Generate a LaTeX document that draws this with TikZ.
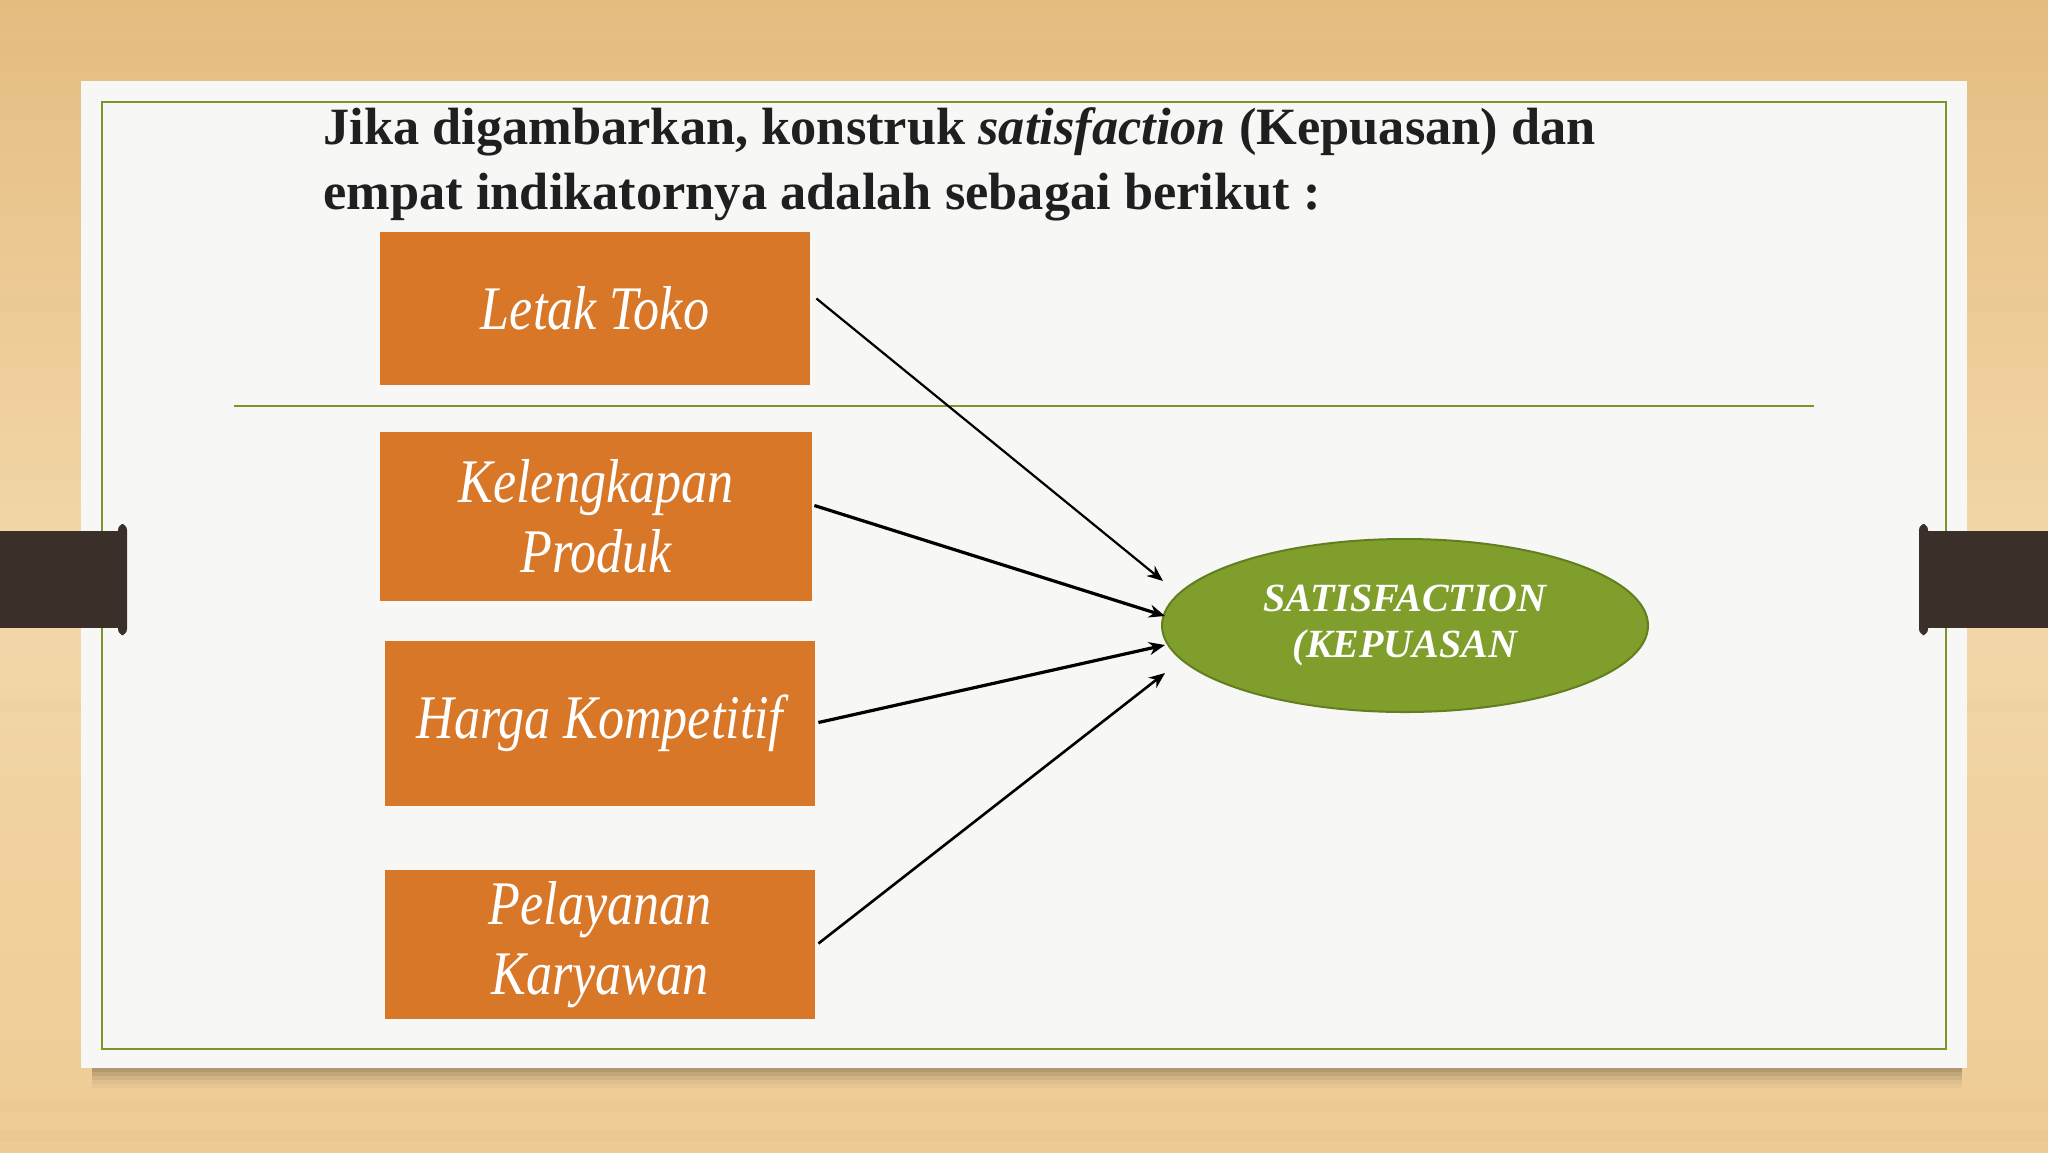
\documentclass[tikz,border=0pt]{standalone}
\usepackage{fontspec}
\setmainfont{Liberation Serif}
\newfontfamily\boxfont[FakeStretch=0.84]{Liberation Serif}
\usetikzlibrary{shapes.geometric,arrows.meta,calc}
\definecolor{wood}{RGB}{238,203,148}
\definecolor{woodlight}{RGB}{243,216,170}
\definecolor{wooddark}{RGB}{229,188,128}
\definecolor{card}{RGB}{247,247,246}
\definecolor{olive}{RGB}{122,150,40}
\definecolor{boxorange}{RGB}{216,119,40}
\definecolor{ellgreen}{RGB}{128,158,44}
\definecolor{ellborder}{RGB}{98,126,30}
\definecolor{stripcol}{RGB}{58,48,41}
\tikzset{
  indbox/.style={fill=boxorange, text=white, inner sep=0pt, align=center,
    font=\boxfont\fontsize{31}{35}\selectfont\itshape},
  construct/.style={ellipse, fill=ellgreen, draw=ellborder, line width=1pt,
    text=white, align=center, inner sep=0pt,
    font=\fontsize{20}{23}\selectfont\bfseries\itshape},
  link/.style={-{Stealth[length=8pt,width=6.5pt]}, line width=1.3pt, black},
  titletext/.style={anchor=base west, inner sep=0pt, text=black!88,
    font=\fontsize{26.2}{30}\selectfont\bfseries}
}
\begin{document}
\begin{tikzpicture}[x=0.5pt,y=-0.5pt]
\useasboundingbox (0,0) rectangle (2048,1152);
% wood background
\shade[top color=wooddark, bottom color=wood, middle color=woodlight] (0,0) rectangle (2048,1152);
\foreach \yy/\op in {20/0.18,45/0.15,1100/0.15,1130/0.18,300/0.08,700/0.08}{
  \fill[wooddark,opacity=\op] (0,\yy) rectangle (2048,\yy+12);
}
% card shadow
\foreach \d/\op in {20/0.03,16/0.04,12/0.05,8/0.07,4/0.09}{
  \fill[black,opacity=\op] (92,1068) rectangle (1962,1068+\d);
}
% card
\fill[card] (81,81) rectangle (1967,1068);
\draw[olive, line width=1.3pt] (102,102) rectangle (1946,1049);
\draw[olive, line width=1.1pt] (234,406) -- (1814,406);
% side strips
\fill[stripcol] (0,531) rectangle (125,628);
\fill[stripcol, rounded corners=3pt] (118,524) rectangle (127,635);
\fill[stripcol] (1921,531) rectangle (2048,628);
\fill[stripcol, rounded corners=3pt] (1919,524) rectangle (1928,635);
% title
\node[titletext] (title1) at (323,144) {Jika digambarkan, konstruk \textit{satisfaction} (Kepuasan) dan};
\node[titletext] (title2) at (323,209) {empat indikatornya adalah sebagai berikut :};
% indicator boxes
\node[indbox, minimum width=215pt, minimum height=76.5pt] (b1) at (595,308.5) {Letak Toko};
\node[indbox, minimum width=216pt, minimum height=84.5pt] (b2) at (596,516.5) {Kelengkapan\\Produk};
\node[indbox, minimum width=215pt, minimum height=82.5pt] (b3) at (600,723.5) {Harga Kompetitif};
\node[indbox, minimum width=215pt, minimum height=74.5pt] (b4) at (600,944.5) {Pelayanan\\Karyawan};
% construct
\node[construct, minimum width=243pt, minimum height=86.5pt] (sat) at (1405,625.5) {SATISFACTION\\(KEPUASAN};
% arrow targets
\coordinate (t1) at (1163,581);
\coordinate (t2) at (1165,616);
\coordinate (t3) at (1165,645);
\coordinate (t4) at (1165,673);
\draw[link, line width=1.1pt] ([shift={(6,-10)}]b1.east) -- (t1);
\draw[link, line width=1.6pt] ([shift={(2,-11)}]b2.east) -- (t2);
\draw[link, line width=1.6pt] ([shift={(3,-1)}]b3.east) -- (t3);
\draw[link, line width=1.3pt] ([shift={(3,-1)}]b4.east) -- (t4);
\end{tikzpicture}
\end{document}
